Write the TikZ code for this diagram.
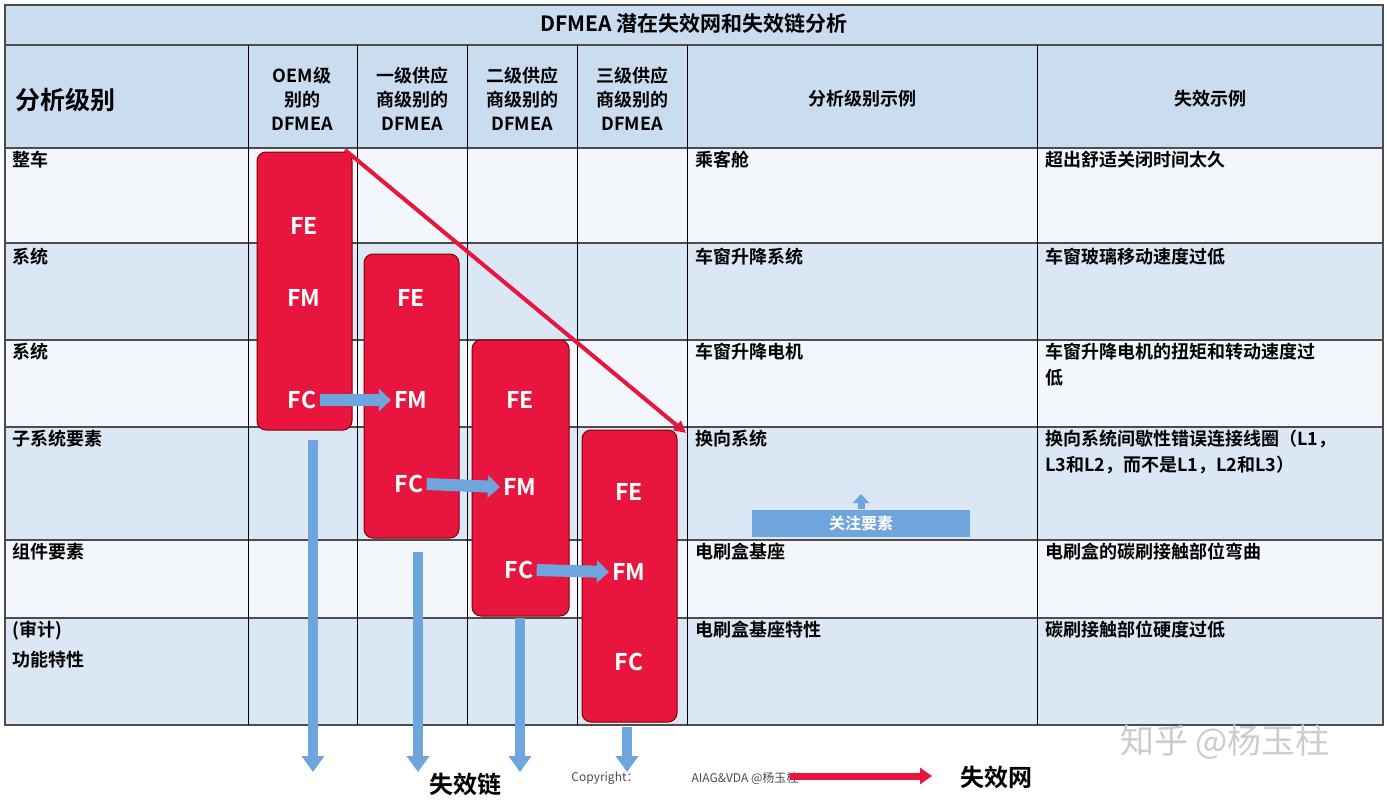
\documentclass[tikz,border=0pt]{standalone}
\usepackage{fontspec}
\setmainfont{Noto Sans CJK SC}[BoldFont={* Bold}]
\usetikzlibrary{arrows.meta,calc}
\definecolor{hdr}{HTML}{C9DCF0}
\definecolor{rowa}{HTML}{F3F7FC}
\definecolor{rowb}{HTML}{DCE7F5}
\definecolor{redbox}{HTML}{E8163E}
\definecolor{arrowblue}{HTML}{6FA5DD}
\begin{document}
\begin{tikzpicture}[x=1pt,y=-1pt,
  cell/.style={font=\bfseries\fontsize{18}{26}\selectfont,anchor=north west,inner sep=0pt,align=left},
  hcell/.style={font=\bfseries\fontsize{18}{24}\selectfont,align=center},
  redb/.style={draw=red!50!black,line width=1pt,fill=redbox,rounded corners=9pt},
  ftxt/.style={font=\bfseries\fontsize{23}{24}\selectfont,text=white},
  varr/.style={arrowblue,line width=10pt,-{Triangle[width=22pt,length=16pt]}},
  harr/.style={arrowblue,line width=12pt,-{Triangle[width=22pt,length=12pt]}}]
\useasboundingbox (0,0) rectangle (1387,800);
\fill[white] (0,0) rectangle (1387,800);
\fill[hdr] (5,5) rectangle (1383,148);
\fill[rowa] (5,148) rectangle (1383,243);
\fill[rowb] (5,243) rectangle (1383,340);
\fill[rowa] (5,340) rectangle (1383,427);
\fill[rowb] (5,427) rectangle (1383,540);
\fill[rowa] (5,540) rectangle (1383,618);
\fill[rowb] (5,618) rectangle (1383,725);
\draw[gray!60!black,line width=2pt] (5,5) rectangle (1383,725);
\foreach \y in {45,148,243,340,427,540,618} \draw[gray!60!black,line width=1.5pt] (5,\y) -- (1383,\y);
\foreach \x in {248,357,467,577,687,1037} \draw[black,line width=1pt] (\x,45) -- (\x,725);
\node[font=\bfseries\fontsize{21}{22}\selectfont] (title) at (694,24) {DFMEA 潜在失效网和失效链分析};
\node[font=\bfseries\fontsize{25}{26}\selectfont,anchor=west] (h0) at (12,100) {分析级别};
\node[hcell] (h1) at (302,99) {OEM级\\别的\\DFMEA};
\node[hcell] (h2) at (412,99) {一级供应\\商级别的\\DFMEA};
\node[hcell] (h3) at (522,99) {二级供应\\商级别的\\DFMEA};
\node[hcell] (h4) at (632,99) {三级供应\\商级别的\\DFMEA};
\node[hcell] (h5) at (862,99) {分析级别示例};
\node[hcell] (h6) at (1210,99) {失效示例};
\node[cell] (r1) at (12,151) {整车};
\node[cell] (r2) at (12,248) {系统};
\node[cell] (r3) at (12,343) {系统};
\node[cell] (r4) at (12,430) {子系统要素};
\node[cell] (r5) at (12,543) {组件要素};
\node[cell] (r6) at (12,621) {(审计)\\[4pt]功能特性};
\node[cell] (e1) at (695,151) {乘客舱};
\node[cell] (e2) at (695,248) {车窗升降系统};
\node[cell] (e3) at (695,343) {车窗升降电机};
\node[cell] (e4) at (695,430) {换向系统};
\node[cell] (e5) at (695,543) {电刷盒基座};
\node[cell] (e6) at (695,621) {电刷盒基座特性};
\node[cell] (f1) at (1045,151) {超出舒适关闭时间太久};
\node[cell] (f2) at (1045,248) {车窗玻璃移动速度过低};
\node[cell] (f3) at (1045,343) {车窗升降电机的扭矩和转动速度过\\低};
\node[cell] (f4) at (1045,430) {换向系统间歇性错误连接线圈（L1，\\L3和L2，而不是L1，L2和L3）};
\node[cell] (f5) at (1045,543) {电刷盒的碳刷接触部位弯曲};
\node[cell] (f6) at (1045,621) {碳刷接触部位硬度过低};
\coordinate (d1s) at (313,440); \coordinate (d1e) at (313,772);
\coordinate (d2s) at (418,552); \coordinate (d2e) at (418,772);
\coordinate (d3s) at (520,618); \coordinate (d3e) at (520,772);
\coordinate (d4s) at (627,727); \coordinate (d4e) at (627,772);
\foreach \a in {1,2,3,4} \draw[varr] (d\a s) -- (d\a e);
\node[redb,minimum width=95pt,minimum height=278pt] (b1) at (304.5,291) {};
\node[redb,minimum width=95pt,minimum height=284pt] (b2) at (411.5,396) {};
\node[redb,minimum width=97pt,minimum height=276pt] (b3) at (520.5,478) {};
\node[redb,minimum width=95pt,minimum height=292pt] (b4) at (629.5,576) {};
\node[ftxt] (fe1) at (304,226) {FE};
\node[ftxt] (fm1) at (304,298) {FM};
\node[ftxt] (fc1) at (302,400) {FC};
\node[ftxt] (fe2) at (411,298) {FE};
\node[ftxt] (fm2) at (411,400) {FM};
\node[ftxt] (fc2) at (409,484) {FC};
\node[ftxt] (fe3) at (520,400) {FE};
\node[ftxt] (fm3) at (520,487) {FM};
\node[ftxt] (fc3) at (519,570) {FC};
\node[ftxt] (fe4) at (629,492) {FE};
\node[ftxt] (fm4) at (629,572) {FM};
\node[ftxt] (fc4) at (629,662) {FC};
\draw[harr] (fc1.east) -- (fm2.west);
\draw[harr] (fc2.east) -- (fm3.west);
\draw[harr] (fc3.east) -- (fm4.west);
\coordinate (dg1) at (345,150); \coordinate (dg2) at (686,433);
\draw[redbox,line width=4pt,-{Triangle[width=12pt,length=12pt]}] (dg1) -- (dg2);
\node[fill=arrowblue,minimum width=218pt,minimum height=27pt,font=\bfseries\fontsize{16}{17}\selectfont,text=white] (focus) at (861,523) {关注要素};
\coordinate (fu) at (861,494);
\draw[arrowblue,line width=7pt,-{Triangle[width=16pt,length=9pt]}] (focus.north) -- (fu);
\node[font=\bfseries\fontsize{24}{26}\selectfont] (chain) at (465,784) {失效链};
\node[font=\fontsize{12}{14}\selectfont,text=gray!60!black] (copy) at (605,778) {Copyright：};
\node[font=\fontsize{12}{14}\selectfont,text=gray!60!black] (aiag) at (745,778) {AIAG\&VDA @杨玉柱};
\coordinate (ra1) at (790,776); \coordinate (ra2) at (932,776);
\draw[redbox,line width=7pt,-{Triangle[width=16pt,length=12pt]}] (ra1) -- (ra2);
\node[font=\bfseries\fontsize{24}{26}\selectfont] (net) at (996,777) {失效网};
\node[font=\fontsize{34}{36}\selectfont,text=gray!40] (wm) at (1225,742) {知乎 @杨玉柱};
\end{tikzpicture}
\end{document}
